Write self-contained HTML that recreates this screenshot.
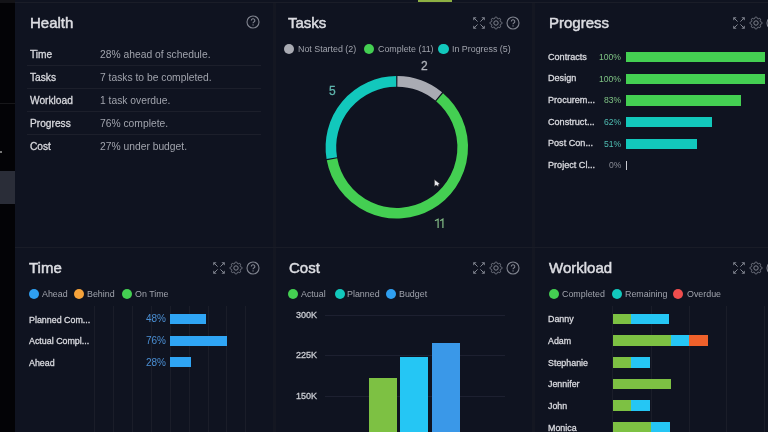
<!DOCTYPE html>
<html><head><meta charset="utf-8"><style>
html,body{margin:0;padding:0;}
body{width:768px;height:432px;overflow:hidden;position:relative;background:#0f1320;font-family:"Liberation Sans",sans-serif;}
.t{position:absolute;white-space:nowrap;line-height:1;will-change:transform;}
.b{-webkit-text-stroke:0.5px currentColor;}
.m{-webkit-text-stroke:0.3px currentColor;}
.r{position:absolute;}
</style></head><body>
<div class="r" style="left:0.00px;top:0.00px;width:15.00px;height:432.00px;background:#030306;"></div>
<div class="r" style="left:0.00px;top:0.00px;width:15.00px;height:3.00px;background:#131317;"></div>
<div class="r" style="left:0.00px;top:170.60px;width:14.60px;height:33.40px;background:#2a2d38;"></div>
<div class="r" style="left:0.00px;top:151.00px;width:2.00px;height:2.00px;background:#777;"></div>
<div class="r" style="left:0.00px;top:102.70px;width:15.00px;height:1.00px;background:#17171a;"></div>
<div class="r" style="left:15.00px;top:2.20px;width:753.00px;height:1.10px;background:#1a1d28;"></div>
<div class="r" style="left:418.00px;top:0.00px;width:34.30px;height:2.30px;background:#8db043;"></div>
<div class="r" style="left:272.60px;top:3.00px;width:3.60px;height:429.00px;background:#141722;"></div>
<div class="r" style="left:531.70px;top:3.00px;width:3.70px;height:429.00px;background:#141722;"></div>
<div class="r" style="left:15.00px;top:246.50px;width:753.00px;height:1.40px;background:#191c27;"></div>
<div class="t b" style="top:15.20px;font-size:15px;color:#dcdde2;left:29.50px;">Health</div>
<svg class="r" style="left:245.1px;top:14.399999999999999px" width="16" height="16" viewBox="0 0 16 16"><circle cx="8" cy="8" r="6.0" fill="none" stroke="#80848f" stroke-width="1.1"/><path d="M6.3 6.5a1.75 1.75 0 1 1 2.6 1.5c-0.6 0.35-0.85 0.65-0.85 1.3" fill="none" stroke="#80848f" stroke-width="1.1"/><circle cx="8.05" cy="10.9" r="0.7" fill="#80848f"/></svg>
<div class="t m" style="top:49.57px;font-size:10.2px;color:#d8d9de;left:30.00px;">Time</div>
<div class="t " style="top:50.48px;font-size:10.3px;color:#a0a3ac;left:99.70px;">28% ahead of schedule.</div>
<div class="t m" style="top:72.57px;font-size:10.2px;color:#d8d9de;left:30.00px;">Tasks</div>
<div class="t " style="top:73.48px;font-size:10.3px;color:#a0a3ac;left:99.70px;">7 tasks to be completed.</div>
<div class="t m" style="top:95.57px;font-size:10.2px;color:#d8d9de;left:30.00px;">Workload</div>
<div class="t " style="top:96.48px;font-size:10.3px;color:#a0a3ac;left:99.70px;">1 task overdue.</div>
<div class="t m" style="top:118.57px;font-size:10.2px;color:#d8d9de;left:30.00px;">Progress</div>
<div class="t " style="top:119.48px;font-size:10.3px;color:#a0a3ac;left:99.70px;">76% complete.</div>
<div class="t m" style="top:141.57px;font-size:10.2px;color:#d8d9de;left:30.00px;">Cost</div>
<div class="t " style="top:142.48px;font-size:10.3px;color:#a0a3ac;left:99.70px;">27% under budget.</div>
<div class="r" style="left:27.00px;top:65.00px;width:233.50px;height:1.00px;background:#1c1f2b;"></div>
<div class="r" style="left:27.00px;top:88.00px;width:233.50px;height:1.00px;background:#1c1f2b;"></div>
<div class="r" style="left:27.00px;top:111.00px;width:233.50px;height:1.00px;background:#1c1f2b;"></div>
<div class="r" style="left:27.00px;top:134.00px;width:233.50px;height:1.00px;background:#1c1f2b;"></div>
<div class="t b" style="top:14.80px;font-size:15px;color:#dcdde2;left:288.40px;">Tasks</div>
<svg class="r" style="left:471.0px;top:14.700000000000003px" width="16" height="16" viewBox="0 0 16 16"><path d="M2.2 2.2H5.6L2.2 5.6Z M13.8 2.2H10.4L13.8 5.6Z M2.2 13.8H5.6L2.2 10.4Z M13.8 13.8H10.4L13.8 10.4Z" fill="#80848f"/><path d="M3.4 3.4L6.6 6.6 M12.6 3.4L9.4 6.6 M3.4 12.6L6.6 9.4 M12.6 12.6L9.4 9.4" stroke="#80848f" stroke-width="1"/></svg>
<svg class="r" style="left:487.9px;top:14.600000000000001px" width="16" height="16" viewBox="0 0 16 16"><path d="M8.00 1.95 L8.24 1.95 L8.47 1.97 L8.69 2.19 L8.87 2.48 L9.03 2.80 L9.17 3.13 L9.29 3.43 L9.41 3.67 L9.57 3.73 L9.74 3.80 L9.90 3.87 L10.07 3.95 L10.32 3.86 L10.62 3.73 L10.94 3.59 L11.29 3.48 L11.62 3.41 L11.93 3.40 L12.11 3.56 L12.28 3.72 L12.44 3.89 L12.60 4.07 L12.59 4.38 L12.52 4.71 L12.41 5.06 L12.27 5.38 L12.14 5.68 L12.05 5.93 L12.13 6.10 L12.20 6.26 L12.27 6.43 L12.33 6.59 L12.57 6.71 L12.87 6.83 L13.20 6.97 L13.52 7.13 L13.81 7.31 L14.03 7.53 L14.05 7.76 L14.05 8.00 L14.05 8.24 L14.03 8.47 L13.81 8.69 L13.52 8.87 L13.20 9.03 L12.87 9.17 L12.57 9.29 L12.33 9.41 L12.27 9.57 L12.20 9.74 L12.13 9.90 L12.05 10.07 L12.14 10.32 L12.27 10.62 L12.41 10.94 L12.52 11.29 L12.59 11.62 L12.60 11.93 L12.44 12.11 L12.28 12.28 L12.11 12.44 L11.93 12.60 L11.62 12.59 L11.29 12.52 L10.94 12.41 L10.62 12.27 L10.32 12.14 L10.07 12.05 L9.90 12.13 L9.74 12.20 L9.57 12.27 L9.41 12.33 L9.29 12.57 L9.17 12.87 L9.03 13.20 L8.87 13.52 L8.69 13.81 L8.47 14.03 L8.24 14.05 L8.00 14.05 L7.76 14.05 L7.53 14.03 L7.31 13.81 L7.13 13.52 L6.97 13.20 L6.83 12.87 L6.71 12.57 L6.59 12.33 L6.43 12.27 L6.26 12.20 L6.10 12.13 L5.93 12.05 L5.68 12.14 L5.38 12.27 L5.06 12.41 L4.71 12.52 L4.38 12.59 L4.07 12.60 L3.89 12.44 L3.72 12.28 L3.56 12.11 L3.40 11.93 L3.41 11.62 L3.48 11.29 L3.59 10.94 L3.73 10.62 L3.86 10.32 L3.95 10.07 L3.87 9.90 L3.80 9.74 L3.73 9.57 L3.67 9.41 L3.43 9.29 L3.13 9.17 L2.80 9.03 L2.48 8.87 L2.19 8.69 L1.97 8.47 L1.95 8.24 L1.95 8.00 L1.95 7.76 L1.97 7.53 L2.19 7.31 L2.48 7.13 L2.80 6.97 L3.13 6.83 L3.43 6.71 L3.67 6.59 L3.73 6.43 L3.80 6.26 L3.87 6.10 L3.95 5.93 L3.86 5.68 L3.73 5.38 L3.59 5.06 L3.48 4.71 L3.41 4.38 L3.40 4.07 L3.56 3.89 L3.72 3.72 L3.89 3.56 L4.07 3.40 L4.38 3.41 L4.71 3.48 L5.06 3.59 L5.38 3.73 L5.68 3.86 L5.93 3.95 L6.10 3.87 L6.26 3.80 L6.43 3.73 L6.59 3.67 L6.71 3.43 L6.83 3.13 L6.97 2.80 L7.13 2.48 L7.31 2.19 L7.53 1.97 L7.76 1.95Z" fill="none" stroke="#80848f" stroke-width="1.0" stroke-linejoin="round"/><circle cx="8" cy="8" r="2.2" fill="none" stroke="#80848f" stroke-width="1.0"/></svg>
<svg class="r" style="left:505.19999999999993px;top:14.600000000000001px" width="16" height="16" viewBox="0 0 16 16"><circle cx="8" cy="8" r="6.0" fill="none" stroke="#80848f" stroke-width="1.1"/><path d="M6.3 6.5a1.75 1.75 0 1 1 2.6 1.5c-0.6 0.35-0.85 0.65-0.85 1.3" fill="none" stroke="#80848f" stroke-width="1.1"/><circle cx="8.05" cy="10.9" r="0.7" fill="#80848f"/></svg>
<div class="r" style="left:283.60px;top:43.80px;width:10.2px;height:10.2px;border-radius:50%;background:#a9abb3"></div>
<div class="t " style="top:44.77px;font-size:8.9px;color:#a0a3ac;left:297.50px;">Not Started (2)</div>
<div class="r" style="left:363.60px;top:43.80px;width:10.2px;height:10.2px;border-radius:50%;background:#44cf52"></div>
<div class="t " style="top:44.77px;font-size:8.9px;color:#a0a3ac;left:377.70px;">Complete (11)</div>
<div class="r" style="left:438.40px;top:43.80px;width:10.2px;height:10.2px;border-radius:50%;background:#12c8bc"></div>
<div class="t " style="top:44.77px;font-size:8.9px;color:#a0a3ac;left:452.30px;">In Progress (5)</div>
<svg class="r" style="left:0;top:0" width="768" height="432"><path d="M397.38 81.40A65.9 65.9 0 0 1 438.72 96.45" fill="none" stroke="#a9abb3" stroke-width="10.6"/><path d="M439.60 97.19A65.9 65.9 0 1 1 332.00 159.31" fill="none" stroke="#44cf52" stroke-width="10.6"/><path d="M331.80 158.18A65.9 65.9 0 0 1 396.22 81.40" fill="none" stroke="#12c8bc" stroke-width="10.6"/></svg>
<div class="t m" style="top:59.84px;font-size:12px;color:#b0b3ba;left:421.00px;">2</div>
<div class="t m" style="top:85.34px;font-size:12px;color:#5fb5ad;left:328.60px;">5</div>
<svg class="r" style="left:430px;top:214px" width="20" height="18" viewBox="430 214 20 18"><path d="M435.0 220.8L438.1 219.2V228.1M440.2 220.8L442.9 219.2V228.1" fill="none" stroke="#80b884" stroke-width="1.25"/></svg>
<svg class="r" style="left:432px;top:178px" width="10" height="12" viewBox="0 0 10 12"><path d="M2.4 1.5L2.4 8.6L4.1 7.1L6.2 8.4L6.6 6.3L8 5.9Z" fill="#e8e8ee" stroke="#222" stroke-width="0.5"/></svg>
<div class="t b" style="top:14.90px;font-size:15px;color:#dcdde2;left:548.90px;">Progress</div>
<svg class="r" style="left:730.7px;top:14.700000000000003px" width="16" height="16" viewBox="0 0 16 16"><path d="M2.2 2.2H5.6L2.2 5.6Z M13.8 2.2H10.4L13.8 5.6Z M2.2 13.8H5.6L2.2 10.4Z M13.8 13.8H10.4L13.8 10.4Z" fill="#80848f"/><path d="M3.4 3.4L6.6 6.6 M12.6 3.4L9.4 6.6 M3.4 12.6L6.6 9.4 M12.6 12.6L9.4 9.4" stroke="#80848f" stroke-width="1"/></svg>
<svg class="r" style="left:747.6px;top:14.600000000000001px" width="16" height="16" viewBox="0 0 16 16"><path d="M8.00 1.95 L8.24 1.95 L8.47 1.97 L8.69 2.19 L8.87 2.48 L9.03 2.80 L9.17 3.13 L9.29 3.43 L9.41 3.67 L9.57 3.73 L9.74 3.80 L9.90 3.87 L10.07 3.95 L10.32 3.86 L10.62 3.73 L10.94 3.59 L11.29 3.48 L11.62 3.41 L11.93 3.40 L12.11 3.56 L12.28 3.72 L12.44 3.89 L12.60 4.07 L12.59 4.38 L12.52 4.71 L12.41 5.06 L12.27 5.38 L12.14 5.68 L12.05 5.93 L12.13 6.10 L12.20 6.26 L12.27 6.43 L12.33 6.59 L12.57 6.71 L12.87 6.83 L13.20 6.97 L13.52 7.13 L13.81 7.31 L14.03 7.53 L14.05 7.76 L14.05 8.00 L14.05 8.24 L14.03 8.47 L13.81 8.69 L13.52 8.87 L13.20 9.03 L12.87 9.17 L12.57 9.29 L12.33 9.41 L12.27 9.57 L12.20 9.74 L12.13 9.90 L12.05 10.07 L12.14 10.32 L12.27 10.62 L12.41 10.94 L12.52 11.29 L12.59 11.62 L12.60 11.93 L12.44 12.11 L12.28 12.28 L12.11 12.44 L11.93 12.60 L11.62 12.59 L11.29 12.52 L10.94 12.41 L10.62 12.27 L10.32 12.14 L10.07 12.05 L9.90 12.13 L9.74 12.20 L9.57 12.27 L9.41 12.33 L9.29 12.57 L9.17 12.87 L9.03 13.20 L8.87 13.52 L8.69 13.81 L8.47 14.03 L8.24 14.05 L8.00 14.05 L7.76 14.05 L7.53 14.03 L7.31 13.81 L7.13 13.52 L6.97 13.20 L6.83 12.87 L6.71 12.57 L6.59 12.33 L6.43 12.27 L6.26 12.20 L6.10 12.13 L5.93 12.05 L5.68 12.14 L5.38 12.27 L5.06 12.41 L4.71 12.52 L4.38 12.59 L4.07 12.60 L3.89 12.44 L3.72 12.28 L3.56 12.11 L3.40 11.93 L3.41 11.62 L3.48 11.29 L3.59 10.94 L3.73 10.62 L3.86 10.32 L3.95 10.07 L3.87 9.90 L3.80 9.74 L3.73 9.57 L3.67 9.41 L3.43 9.29 L3.13 9.17 L2.80 9.03 L2.48 8.87 L2.19 8.69 L1.97 8.47 L1.95 8.24 L1.95 8.00 L1.95 7.76 L1.97 7.53 L2.19 7.31 L2.48 7.13 L2.80 6.97 L3.13 6.83 L3.43 6.71 L3.67 6.59 L3.73 6.43 L3.80 6.26 L3.87 6.10 L3.95 5.93 L3.86 5.68 L3.73 5.38 L3.59 5.06 L3.48 4.71 L3.41 4.38 L3.40 4.07 L3.56 3.89 L3.72 3.72 L3.89 3.56 L4.07 3.40 L4.38 3.41 L4.71 3.48 L5.06 3.59 L5.38 3.73 L5.68 3.86 L5.93 3.95 L6.10 3.87 L6.26 3.80 L6.43 3.73 L6.59 3.67 L6.71 3.43 L6.83 3.13 L6.97 2.80 L7.13 2.48 L7.31 2.19 L7.53 1.97 L7.76 1.95Z" fill="none" stroke="#80848f" stroke-width="1.0" stroke-linejoin="round"/><circle cx="8" cy="8" r="2.2" fill="none" stroke="#80848f" stroke-width="1.0"/></svg>
<svg class="r" style="left:764.9px;top:14.600000000000001px" width="16" height="16" viewBox="0 0 16 16"><circle cx="8" cy="8" r="6.0" fill="none" stroke="#80848f" stroke-width="1.1"/><path d="M6.3 6.5a1.75 1.75 0 1 1 2.6 1.5c-0.6 0.35-0.85 0.65-0.85 1.3" fill="none" stroke="#80848f" stroke-width="1.1"/><circle cx="8.05" cy="10.9" r="0.7" fill="#80848f"/></svg>
<div class="t m" style="top:52.70px;font-size:9.1px;color:#d8d9de;left:548.10px;">Contracts</div>
<div class="t " style="top:53.12px;font-size:8.6px;color:#7ec283;right:146.70px;text-align:right;">100%</div>
<div class="r" style="left:625.90px;top:51.90px;width:139.10px;height:10.60px;background:#44cf52;"></div>
<div class="t m" style="top:74.35px;font-size:9.1px;color:#d8d9de;left:548.10px;">Design</div>
<div class="t " style="top:74.77px;font-size:8.6px;color:#7ec283;right:146.70px;text-align:right;">100%</div>
<div class="r" style="left:625.90px;top:73.55px;width:139.10px;height:10.60px;background:#44cf52;"></div>
<div class="t m" style="top:96.00px;font-size:9.1px;color:#d8d9de;left:548.10px;">Procurem...</div>
<div class="t " style="top:96.42px;font-size:8.6px;color:#7ec283;right:146.70px;text-align:right;">83%</div>
<div class="r" style="left:625.90px;top:95.20px;width:115.45px;height:10.60px;background:#44cf52;"></div>
<div class="t m" style="top:117.65px;font-size:9.1px;color:#d8d9de;left:548.10px;">Construct...</div>
<div class="t " style="top:118.07px;font-size:8.6px;color:#4fbdb2;right:146.70px;text-align:right;">62%</div>
<div class="r" style="left:625.90px;top:116.85px;width:86.24px;height:10.60px;background:#12c8bc;"></div>
<div class="t m" style="top:139.30px;font-size:9.1px;color:#d8d9de;left:548.10px;">Post Con...</div>
<div class="t " style="top:139.72px;font-size:8.6px;color:#4fbdb2;right:146.70px;text-align:right;">51%</div>
<div class="r" style="left:625.90px;top:138.50px;width:70.94px;height:10.60px;background:#12c8bc;"></div>
<div class="t m" style="top:160.95px;font-size:9.1px;color:#d8d9de;left:548.10px;">Project Cl...</div>
<div class="t " style="top:161.37px;font-size:8.6px;color:#8a8d96;right:146.70px;text-align:right;">0%</div>
<div class="r" style="left:626.30px;top:160.95px;width:1.00px;height:8.60px;background:#c8cad0;"></div>
<div class="t b" style="top:260.20px;font-size:15px;color:#dcdde2;left:29.40px;">Time</div>
<svg class="r" style="left:211.0px;top:259.70000000000005px" width="16" height="16" viewBox="0 0 16 16"><path d="M2.2 2.2H5.6L2.2 5.6Z M13.8 2.2H10.4L13.8 5.6Z M2.2 13.8H5.6L2.2 10.4Z M13.8 13.8H10.4L13.8 10.4Z" fill="#80848f"/><path d="M3.4 3.4L6.6 6.6 M12.6 3.4L9.4 6.6 M3.4 12.6L6.6 9.4 M12.6 12.6L9.4 9.4" stroke="#80848f" stroke-width="1"/></svg>
<svg class="r" style="left:227.9px;top:259.6px" width="16" height="16" viewBox="0 0 16 16"><path d="M8.00 1.95 L8.24 1.95 L8.47 1.97 L8.69 2.19 L8.87 2.48 L9.03 2.80 L9.17 3.13 L9.29 3.43 L9.41 3.67 L9.57 3.73 L9.74 3.80 L9.90 3.87 L10.07 3.95 L10.32 3.86 L10.62 3.73 L10.94 3.59 L11.29 3.48 L11.62 3.41 L11.93 3.40 L12.11 3.56 L12.28 3.72 L12.44 3.89 L12.60 4.07 L12.59 4.38 L12.52 4.71 L12.41 5.06 L12.27 5.38 L12.14 5.68 L12.05 5.93 L12.13 6.10 L12.20 6.26 L12.27 6.43 L12.33 6.59 L12.57 6.71 L12.87 6.83 L13.20 6.97 L13.52 7.13 L13.81 7.31 L14.03 7.53 L14.05 7.76 L14.05 8.00 L14.05 8.24 L14.03 8.47 L13.81 8.69 L13.52 8.87 L13.20 9.03 L12.87 9.17 L12.57 9.29 L12.33 9.41 L12.27 9.57 L12.20 9.74 L12.13 9.90 L12.05 10.07 L12.14 10.32 L12.27 10.62 L12.41 10.94 L12.52 11.29 L12.59 11.62 L12.60 11.93 L12.44 12.11 L12.28 12.28 L12.11 12.44 L11.93 12.60 L11.62 12.59 L11.29 12.52 L10.94 12.41 L10.62 12.27 L10.32 12.14 L10.07 12.05 L9.90 12.13 L9.74 12.20 L9.57 12.27 L9.41 12.33 L9.29 12.57 L9.17 12.87 L9.03 13.20 L8.87 13.52 L8.69 13.81 L8.47 14.03 L8.24 14.05 L8.00 14.05 L7.76 14.05 L7.53 14.03 L7.31 13.81 L7.13 13.52 L6.97 13.20 L6.83 12.87 L6.71 12.57 L6.59 12.33 L6.43 12.27 L6.26 12.20 L6.10 12.13 L5.93 12.05 L5.68 12.14 L5.38 12.27 L5.06 12.41 L4.71 12.52 L4.38 12.59 L4.07 12.60 L3.89 12.44 L3.72 12.28 L3.56 12.11 L3.40 11.93 L3.41 11.62 L3.48 11.29 L3.59 10.94 L3.73 10.62 L3.86 10.32 L3.95 10.07 L3.87 9.90 L3.80 9.74 L3.73 9.57 L3.67 9.41 L3.43 9.29 L3.13 9.17 L2.80 9.03 L2.48 8.87 L2.19 8.69 L1.97 8.47 L1.95 8.24 L1.95 8.00 L1.95 7.76 L1.97 7.53 L2.19 7.31 L2.48 7.13 L2.80 6.97 L3.13 6.83 L3.43 6.71 L3.67 6.59 L3.73 6.43 L3.80 6.26 L3.87 6.10 L3.95 5.93 L3.86 5.68 L3.73 5.38 L3.59 5.06 L3.48 4.71 L3.41 4.38 L3.40 4.07 L3.56 3.89 L3.72 3.72 L3.89 3.56 L4.07 3.40 L4.38 3.41 L4.71 3.48 L5.06 3.59 L5.38 3.73 L5.68 3.86 L5.93 3.95 L6.10 3.87 L6.26 3.80 L6.43 3.73 L6.59 3.67 L6.71 3.43 L6.83 3.13 L6.97 2.80 L7.13 2.48 L7.31 2.19 L7.53 1.97 L7.76 1.95Z" fill="none" stroke="#80848f" stroke-width="1.0" stroke-linejoin="round"/><circle cx="8" cy="8" r="2.2" fill="none" stroke="#80848f" stroke-width="1.0"/></svg>
<svg class="r" style="left:245.2px;top:259.6px" width="16" height="16" viewBox="0 0 16 16"><circle cx="8" cy="8" r="6.0" fill="none" stroke="#80848f" stroke-width="1.1"/><path d="M6.3 6.5a1.75 1.75 0 1 1 2.6 1.5c-0.6 0.35-0.85 0.65-0.85 1.3" fill="none" stroke="#80848f" stroke-width="1.1"/><circle cx="8.05" cy="10.9" r="0.7" fill="#80848f"/></svg>
<div class="r" style="left:28.80px;top:289.10px;width:10.2px;height:10.2px;border-radius:50%;background:#2f9ff0"></div>
<div class="t " style="top:290.07px;font-size:8.9px;color:#a0a3ac;left:41.90px;">Ahead</div>
<div class="r" style="left:74.30px;top:289.10px;width:10.2px;height:10.2px;border-radius:50%;background:#f5a23a"></div>
<div class="t " style="top:290.07px;font-size:8.9px;color:#a0a3ac;left:87.00px;">Behind</div>
<div class="r" style="left:121.70px;top:289.10px;width:10.2px;height:10.2px;border-radius:50%;background:#44cf52"></div>
<div class="t " style="top:290.07px;font-size:8.9px;color:#a0a3ac;left:135.00px;">On Time</div>
<div class="r" style="left:93.60px;top:306.00px;width:1.00px;height:126.00px;background:#1a1d29;"></div>
<div class="r" style="left:112.50px;top:306.00px;width:1.00px;height:126.00px;background:#1a1d29;"></div>
<div class="r" style="left:131.50px;top:306.00px;width:1.00px;height:126.00px;background:#1a1d29;"></div>
<div class="r" style="left:150.50px;top:306.00px;width:1.00px;height:126.00px;background:#1a1d29;"></div>
<div class="r" style="left:169.50px;top:306.00px;width:1.00px;height:126.00px;background:#1a1d29;"></div>
<div class="r" style="left:188.50px;top:306.00px;width:1.00px;height:126.00px;background:#1a1d29;"></div>
<div class="r" style="left:207.50px;top:306.00px;width:1.00px;height:126.00px;background:#1a1d29;"></div>
<div class="r" style="left:226.20px;top:306.00px;width:1.00px;height:126.00px;background:#1a1d29;"></div>
<div class="r" style="left:244.90px;top:306.00px;width:1.00px;height:126.00px;background:#1a1d29;"></div>
<div class="t m" style="top:315.77px;font-size:8.9px;color:#d8d9de;left:28.80px;">Planned Com...</div>
<div class="t " style="top:314.44px;font-size:10px;color:#4b8fd3;right:602.00px;text-align:right;">48%</div>
<div class="r" style="left:169.80px;top:314.00px;width:36.29px;height:10.20px;background:#2fa5f5;"></div>
<div class="t m" style="top:337.42px;font-size:8.9px;color:#d8d9de;left:28.80px;">Actual Compl...</div>
<div class="t " style="top:336.08px;font-size:10px;color:#4b8fd3;right:602.00px;text-align:right;">76%</div>
<div class="r" style="left:169.80px;top:335.65px;width:57.46px;height:10.20px;background:#2fa5f5;"></div>
<div class="t m" style="top:359.07px;font-size:8.9px;color:#d8d9de;left:28.80px;">Ahead</div>
<div class="t " style="top:357.74px;font-size:10px;color:#4b8fd3;right:602.00px;text-align:right;">28%</div>
<div class="r" style="left:169.80px;top:357.30px;width:21.17px;height:10.20px;background:#2fa5f5;"></div>
<div class="t b" style="top:260.20px;font-size:15px;color:#dcdde2;left:288.50px;">Cost</div>
<svg class="r" style="left:471.0px;top:259.70000000000005px" width="16" height="16" viewBox="0 0 16 16"><path d="M2.2 2.2H5.6L2.2 5.6Z M13.8 2.2H10.4L13.8 5.6Z M2.2 13.8H5.6L2.2 10.4Z M13.8 13.8H10.4L13.8 10.4Z" fill="#80848f"/><path d="M3.4 3.4L6.6 6.6 M12.6 3.4L9.4 6.6 M3.4 12.6L6.6 9.4 M12.6 12.6L9.4 9.4" stroke="#80848f" stroke-width="1"/></svg>
<svg class="r" style="left:487.9px;top:259.6px" width="16" height="16" viewBox="0 0 16 16"><path d="M8.00 1.95 L8.24 1.95 L8.47 1.97 L8.69 2.19 L8.87 2.48 L9.03 2.80 L9.17 3.13 L9.29 3.43 L9.41 3.67 L9.57 3.73 L9.74 3.80 L9.90 3.87 L10.07 3.95 L10.32 3.86 L10.62 3.73 L10.94 3.59 L11.29 3.48 L11.62 3.41 L11.93 3.40 L12.11 3.56 L12.28 3.72 L12.44 3.89 L12.60 4.07 L12.59 4.38 L12.52 4.71 L12.41 5.06 L12.27 5.38 L12.14 5.68 L12.05 5.93 L12.13 6.10 L12.20 6.26 L12.27 6.43 L12.33 6.59 L12.57 6.71 L12.87 6.83 L13.20 6.97 L13.52 7.13 L13.81 7.31 L14.03 7.53 L14.05 7.76 L14.05 8.00 L14.05 8.24 L14.03 8.47 L13.81 8.69 L13.52 8.87 L13.20 9.03 L12.87 9.17 L12.57 9.29 L12.33 9.41 L12.27 9.57 L12.20 9.74 L12.13 9.90 L12.05 10.07 L12.14 10.32 L12.27 10.62 L12.41 10.94 L12.52 11.29 L12.59 11.62 L12.60 11.93 L12.44 12.11 L12.28 12.28 L12.11 12.44 L11.93 12.60 L11.62 12.59 L11.29 12.52 L10.94 12.41 L10.62 12.27 L10.32 12.14 L10.07 12.05 L9.90 12.13 L9.74 12.20 L9.57 12.27 L9.41 12.33 L9.29 12.57 L9.17 12.87 L9.03 13.20 L8.87 13.52 L8.69 13.81 L8.47 14.03 L8.24 14.05 L8.00 14.05 L7.76 14.05 L7.53 14.03 L7.31 13.81 L7.13 13.52 L6.97 13.20 L6.83 12.87 L6.71 12.57 L6.59 12.33 L6.43 12.27 L6.26 12.20 L6.10 12.13 L5.93 12.05 L5.68 12.14 L5.38 12.27 L5.06 12.41 L4.71 12.52 L4.38 12.59 L4.07 12.60 L3.89 12.44 L3.72 12.28 L3.56 12.11 L3.40 11.93 L3.41 11.62 L3.48 11.29 L3.59 10.94 L3.73 10.62 L3.86 10.32 L3.95 10.07 L3.87 9.90 L3.80 9.74 L3.73 9.57 L3.67 9.41 L3.43 9.29 L3.13 9.17 L2.80 9.03 L2.48 8.87 L2.19 8.69 L1.97 8.47 L1.95 8.24 L1.95 8.00 L1.95 7.76 L1.97 7.53 L2.19 7.31 L2.48 7.13 L2.80 6.97 L3.13 6.83 L3.43 6.71 L3.67 6.59 L3.73 6.43 L3.80 6.26 L3.87 6.10 L3.95 5.93 L3.86 5.68 L3.73 5.38 L3.59 5.06 L3.48 4.71 L3.41 4.38 L3.40 4.07 L3.56 3.89 L3.72 3.72 L3.89 3.56 L4.07 3.40 L4.38 3.41 L4.71 3.48 L5.06 3.59 L5.38 3.73 L5.68 3.86 L5.93 3.95 L6.10 3.87 L6.26 3.80 L6.43 3.73 L6.59 3.67 L6.71 3.43 L6.83 3.13 L6.97 2.80 L7.13 2.48 L7.31 2.19 L7.53 1.97 L7.76 1.95Z" fill="none" stroke="#80848f" stroke-width="1.0" stroke-linejoin="round"/><circle cx="8" cy="8" r="2.2" fill="none" stroke="#80848f" stroke-width="1.0"/></svg>
<svg class="r" style="left:505.19999999999993px;top:259.6px" width="16" height="16" viewBox="0 0 16 16"><circle cx="8" cy="8" r="6.0" fill="none" stroke="#80848f" stroke-width="1.1"/><path d="M6.3 6.5a1.75 1.75 0 1 1 2.6 1.5c-0.6 0.35-0.85 0.65-0.85 1.3" fill="none" stroke="#80848f" stroke-width="1.1"/><circle cx="8.05" cy="10.9" r="0.7" fill="#80848f"/></svg>
<div class="r" style="left:287.80px;top:289.10px;width:10.2px;height:10.2px;border-radius:50%;background:#44cf52"></div>
<div class="t " style="top:290.07px;font-size:8.9px;color:#a0a3ac;left:301.10px;">Actual</div>
<div class="r" style="left:334.70px;top:289.10px;width:10.2px;height:10.2px;border-radius:50%;background:#12c8bc"></div>
<div class="t " style="top:290.07px;font-size:8.9px;color:#a0a3ac;left:346.90px;">Planned</div>
<div class="r" style="left:385.80px;top:289.10px;width:10.2px;height:10.2px;border-radius:50%;background:#2f9ff0"></div>
<div class="t " style="top:290.07px;font-size:8.9px;color:#a0a3ac;left:398.90px;">Budget</div>
<div class="t m" style="top:310.88px;font-size:9px;color:#c9cbd1;right:451.00px;text-align:right;">300K</div>
<div class="r" style="left:325.00px;top:314.70px;width:180.30px;height:1.00px;background:#1d2030;"></div>
<div class="t m" style="top:351.48px;font-size:9px;color:#c9cbd1;right:451.00px;text-align:right;">225K</div>
<div class="r" style="left:325.00px;top:355.30px;width:180.30px;height:1.00px;background:#1d2030;"></div>
<div class="t m" style="top:392.08px;font-size:9px;color:#c9cbd1;right:451.00px;text-align:right;">150K</div>
<div class="r" style="left:325.00px;top:395.90px;width:180.30px;height:1.00px;background:#1d2030;"></div>
<div class="r" style="left:369.00px;top:378.40px;width:28.10px;height:53.60px;background:#7dc143;"></div>
<div class="r" style="left:400.20px;top:357.20px;width:28.30px;height:74.80px;background:#25c6f4;"></div>
<div class="r" style="left:431.60px;top:343.00px;width:28.40px;height:89.00px;background:#3a98e8;"></div>
<div class="t b" style="top:260.20px;font-size:15px;color:#dcdde2;left:548.50px;">Workload</div>
<svg class="r" style="left:730.7px;top:259.70000000000005px" width="16" height="16" viewBox="0 0 16 16"><path d="M2.2 2.2H5.6L2.2 5.6Z M13.8 2.2H10.4L13.8 5.6Z M2.2 13.8H5.6L2.2 10.4Z M13.8 13.8H10.4L13.8 10.4Z" fill="#80848f"/><path d="M3.4 3.4L6.6 6.6 M12.6 3.4L9.4 6.6 M3.4 12.6L6.6 9.4 M12.6 12.6L9.4 9.4" stroke="#80848f" stroke-width="1"/></svg>
<svg class="r" style="left:747.6px;top:259.6px" width="16" height="16" viewBox="0 0 16 16"><path d="M8.00 1.95 L8.24 1.95 L8.47 1.97 L8.69 2.19 L8.87 2.48 L9.03 2.80 L9.17 3.13 L9.29 3.43 L9.41 3.67 L9.57 3.73 L9.74 3.80 L9.90 3.87 L10.07 3.95 L10.32 3.86 L10.62 3.73 L10.94 3.59 L11.29 3.48 L11.62 3.41 L11.93 3.40 L12.11 3.56 L12.28 3.72 L12.44 3.89 L12.60 4.07 L12.59 4.38 L12.52 4.71 L12.41 5.06 L12.27 5.38 L12.14 5.68 L12.05 5.93 L12.13 6.10 L12.20 6.26 L12.27 6.43 L12.33 6.59 L12.57 6.71 L12.87 6.83 L13.20 6.97 L13.52 7.13 L13.81 7.31 L14.03 7.53 L14.05 7.76 L14.05 8.00 L14.05 8.24 L14.03 8.47 L13.81 8.69 L13.52 8.87 L13.20 9.03 L12.87 9.17 L12.57 9.29 L12.33 9.41 L12.27 9.57 L12.20 9.74 L12.13 9.90 L12.05 10.07 L12.14 10.32 L12.27 10.62 L12.41 10.94 L12.52 11.29 L12.59 11.62 L12.60 11.93 L12.44 12.11 L12.28 12.28 L12.11 12.44 L11.93 12.60 L11.62 12.59 L11.29 12.52 L10.94 12.41 L10.62 12.27 L10.32 12.14 L10.07 12.05 L9.90 12.13 L9.74 12.20 L9.57 12.27 L9.41 12.33 L9.29 12.57 L9.17 12.87 L9.03 13.20 L8.87 13.52 L8.69 13.81 L8.47 14.03 L8.24 14.05 L8.00 14.05 L7.76 14.05 L7.53 14.03 L7.31 13.81 L7.13 13.52 L6.97 13.20 L6.83 12.87 L6.71 12.57 L6.59 12.33 L6.43 12.27 L6.26 12.20 L6.10 12.13 L5.93 12.05 L5.68 12.14 L5.38 12.27 L5.06 12.41 L4.71 12.52 L4.38 12.59 L4.07 12.60 L3.89 12.44 L3.72 12.28 L3.56 12.11 L3.40 11.93 L3.41 11.62 L3.48 11.29 L3.59 10.94 L3.73 10.62 L3.86 10.32 L3.95 10.07 L3.87 9.90 L3.80 9.74 L3.73 9.57 L3.67 9.41 L3.43 9.29 L3.13 9.17 L2.80 9.03 L2.48 8.87 L2.19 8.69 L1.97 8.47 L1.95 8.24 L1.95 8.00 L1.95 7.76 L1.97 7.53 L2.19 7.31 L2.48 7.13 L2.80 6.97 L3.13 6.83 L3.43 6.71 L3.67 6.59 L3.73 6.43 L3.80 6.26 L3.87 6.10 L3.95 5.93 L3.86 5.68 L3.73 5.38 L3.59 5.06 L3.48 4.71 L3.41 4.38 L3.40 4.07 L3.56 3.89 L3.72 3.72 L3.89 3.56 L4.07 3.40 L4.38 3.41 L4.71 3.48 L5.06 3.59 L5.38 3.73 L5.68 3.86 L5.93 3.95 L6.10 3.87 L6.26 3.80 L6.43 3.73 L6.59 3.67 L6.71 3.43 L6.83 3.13 L6.97 2.80 L7.13 2.48 L7.31 2.19 L7.53 1.97 L7.76 1.95Z" fill="none" stroke="#80848f" stroke-width="1.0" stroke-linejoin="round"/><circle cx="8" cy="8" r="2.2" fill="none" stroke="#80848f" stroke-width="1.0"/></svg>
<svg class="r" style="left:764.9px;top:259.6px" width="16" height="16" viewBox="0 0 16 16"><circle cx="8" cy="8" r="6.0" fill="none" stroke="#80848f" stroke-width="1.1"/><path d="M6.3 6.5a1.75 1.75 0 1 1 2.6 1.5c-0.6 0.35-0.85 0.65-0.85 1.3" fill="none" stroke="#80848f" stroke-width="1.1"/><circle cx="8.05" cy="10.9" r="0.7" fill="#80848f"/></svg>
<div class="r" style="left:548.50px;top:289.10px;width:10.2px;height:10.2px;border-radius:50%;background:#44cf52"></div>
<div class="t " style="top:290.07px;font-size:8.9px;color:#a0a3ac;left:561.60px;">Completed</div>
<div class="r" style="left:611.80px;top:289.10px;width:10.2px;height:10.2px;border-radius:50%;background:#12c8bc"></div>
<div class="t " style="top:290.07px;font-size:8.9px;color:#a0a3ac;left:624.80px;">Remaining</div>
<div class="r" style="left:672.90px;top:289.10px;width:10.2px;height:10.2px;border-radius:50%;background:#ef4d4d"></div>
<div class="t " style="top:290.07px;font-size:8.9px;color:#a0a3ac;left:686.50px;">Overdue</div>
<div class="r" style="left:612.30px;top:306.00px;width:1.00px;height:126.00px;background:#1a1d29;"></div>
<div class="r" style="left:651.10px;top:306.00px;width:1.00px;height:126.00px;background:#1a1d29;"></div>
<div class="r" style="left:689.10px;top:306.00px;width:1.00px;height:126.00px;background:#1a1d29;"></div>
<div class="r" style="left:726.10px;top:306.00px;width:1.00px;height:126.00px;background:#1a1d29;"></div>
<div class="r" style="left:764.10px;top:306.00px;width:1.00px;height:126.00px;background:#1a1d29;"></div>
<div class="t m" style="top:315.27px;font-size:8.9px;color:#d8d9de;left:548.20px;">Danny</div>
<div class="r" style="left:612.80px;top:313.80px;width:18.60px;height:10.50px;background:#7dc143;"></div>
<div class="r" style="left:631.40px;top:313.80px;width:38.00px;height:10.50px;background:#25c6f4;"></div>
<div class="t m" style="top:336.92px;font-size:8.9px;color:#d8d9de;left:548.20px;">Adam</div>
<div class="r" style="left:612.80px;top:335.45px;width:58.40px;height:10.50px;background:#7dc143;"></div>
<div class="r" style="left:671.20px;top:335.45px;width:18.10px;height:10.50px;background:#25c6f4;"></div>
<div class="r" style="left:689.30px;top:335.45px;width:18.30px;height:10.50px;background:#ef612b;"></div>
<div class="t m" style="top:358.57px;font-size:8.9px;color:#d8d9de;left:548.20px;">Stephanie</div>
<div class="r" style="left:612.80px;top:357.10px;width:18.60px;height:10.50px;background:#7dc143;"></div>
<div class="r" style="left:631.40px;top:357.10px;width:18.50px;height:10.50px;background:#25c6f4;"></div>
<div class="t m" style="top:380.22px;font-size:8.9px;color:#d8d9de;left:548.20px;">Jennifer</div>
<div class="r" style="left:612.80px;top:378.75px;width:58.20px;height:10.50px;background:#7dc143;"></div>
<div class="t m" style="top:401.87px;font-size:8.9px;color:#d8d9de;left:548.20px;">John</div>
<div class="r" style="left:612.80px;top:400.40px;width:18.60px;height:10.50px;background:#7dc143;"></div>
<div class="r" style="left:631.40px;top:400.40px;width:18.50px;height:10.50px;background:#25c6f4;"></div>
<div class="t m" style="top:423.52px;font-size:8.9px;color:#d8d9de;left:548.20px;">Monica</div>
<div class="r" style="left:612.80px;top:422.05px;width:38.50px;height:10.50px;background:#7dc143;"></div>
<div class="r" style="left:651.30px;top:422.05px;width:18.40px;height:10.50px;background:#25c6f4;"></div>
</body></html>
